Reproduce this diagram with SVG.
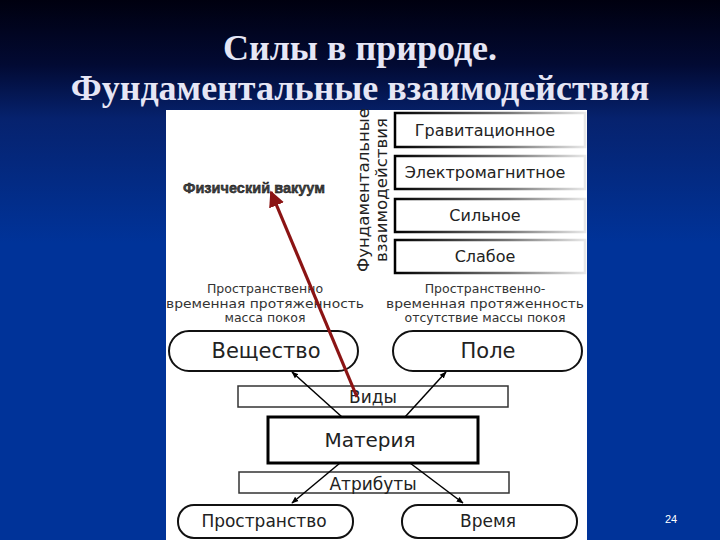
<svg xmlns="http://www.w3.org/2000/svg" width="720" height="540" viewBox="0 0 720 540">
<defs>
<linearGradient id="bg" x1="0" y1="0" x2="0" y2="1">
<stop offset="0" stop-color="#00000f"/>
<stop offset="0.12" stop-color="#020a33"/>
<stop offset="0.22" stop-color="#06226e"/>
<stop offset="0.45" stop-color="#003399"/>
<stop offset="1" stop-color="#003399"/>
</linearGradient>
<linearGradient id="fade" x1="0" y1="0" x2="1" y2="0">
<stop offset="0" stop-color="#000"/>
<stop offset="0.6" stop-color="#777"/>
<stop offset="1" stop-color="#e8e8e8"/>
</linearGradient>
<marker id="ah" viewBox="0 0 10 10" refX="9" refY="5" markerWidth="7" markerHeight="7" orient="auto-start-reverse" markerUnits="userSpaceOnUse">
<path d="M0,1 L10,5 L0,9 z" fill="#000"/>
</marker>
<marker id="ahr" viewBox="0 0 10 10" refX="9" refY="5" markerWidth="5" markerHeight="5" orient="auto">
<path d="M0,0 L10,5 L0,10 z" fill="#8b1414"/>
</marker>
</defs>
<style>
.t{font-family:"DejaVu Sans","Noto Sans",sans-serif;fill:#222;text-anchor:middle}
.title{font-family:"Liberation Serif","Times New Roman",serif;font-weight:bold;fill:#e6e6f5;text-anchor:middle}
.force{fill:#fff;stroke:url(#fade);stroke-width:2.5}
.pill{fill:#fff;stroke:#111;stroke-width:2}
.bar{fill:#fff;stroke:#333;stroke-width:1.5}
.lbl{font-size:12.5px;fill:#333}
</style>
<rect x="0" y="0" width="720" height="540" fill="url(#bg)"/>
<text class="title" x="360" y="60" font-size="36">Силы в природе.</text>
<text class="title" x="360" y="100" font-size="36">Фундаментальные взаимодействия</text>
<rect x="166" y="110" width="421" height="430" fill="#fff"/>

<g id="vertical-label">
<text class="t" font-size="15.5" transform="translate(369,190) rotate(-90)" textLength="164" lengthAdjust="spacingAndGlyphs">Фундаментальные</text>
<text class="t" font-size="15.5" transform="translate(387,190) rotate(-90)" textLength="144" lengthAdjust="spacingAndGlyphs">взаимодействия</text>
</g>
<g id="f1"><rect class="force" x="395" y="113" width="190" height="34"/><text class="t" x="485" y="136" font-size="16" fill="#333">Гравитационное</text></g>
<g id="f2"><rect class="force" x="395" y="156" width="190" height="33"/><text class="t" x="485" y="178" font-size="16" fill="#333">Электромагнитное</text></g>
<g id="f3"><rect class="force" x="395" y="199" width="190" height="33"/><text class="t" x="485" y="221" font-size="16" fill="#333">Сильное</text></g>
<g id="f4"><rect class="force" x="395" y="240" width="190" height="33"/><text class="t" x="485" y="262" font-size="16" fill="#333">Слабое</text></g>

<g id="vacuum"><text x="183" y="193" font-family="'Liberation Sans',Arial,sans-serif" font-size="14" font-weight="bold" fill="#444" stroke="#000" stroke-width="0.4" textLength="142" lengthAdjust="spacingAndGlyphs">Физический вакуум</text></g>

<g id="lbl-left">
<text class="t lbl" x="265" y="293">Пространственно</text>
<text class="t lbl" x="265" y="308" textLength="198" lengthAdjust="spacingAndGlyphs">временная протяженность</text>
<text class="t lbl" x="265" y="322">масса покоя</text>
</g>
<g id="lbl-right">
<text class="t lbl" x="485" y="293">Пространственно-</text>
<text class="t lbl" x="485" y="308" textLength="198" lengthAdjust="spacingAndGlyphs">временная протяженность</text>
<text class="t lbl" x="485" y="322">отсутствие массы покоя</text>
</g>

<g id="substance"><rect class="pill" x="169" y="331" width="189" height="40" rx="20"/><text class="t" x="266" y="358" font-size="21">Вещество</text></g>
<g id="field"><rect class="pill" x="393" y="331" width="189" height="40" rx="20"/><text class="t" x="488" y="358" font-size="21">Поле</text></g>
<g id="kinds"><rect class="bar" x="238" y="386" width="270" height="21"/><text class="t" x="373" y="403" font-size="17">Виды</text></g>
<g id="matter"><rect x="268" y="417" width="210" height="46" fill="#fff" stroke="#000" stroke-width="3"/><text class="t" x="370" y="447" font-size="20">Материя</text></g>
<g id="attrs"><rect class="bar" x="239" y="472" width="270" height="21"/><text class="t" x="373" y="490" font-size="17">Атрибуты</text></g>
<g id="space"><rect class="pill" x="178" y="505" width="175" height="33" rx="16"/><text class="t" x="264" y="527" font-size="17">Пространство</text></g>
<g id="time"><rect class="pill" x="402" y="505" width="175" height="33" rx="16"/><text class="t" x="488" y="527" font-size="17">Время</text></g>

<g id="connectors" stroke="#000" stroke-width="1.5" fill="none">
<line x1="342" y1="417" x2="292" y2="372" marker-end="url(#ah)"/>
<line x1="405" y1="417" x2="446" y2="372" marker-end="url(#ah)"/>
<line x1="340" y1="463" x2="292" y2="503" marker-end="url(#ah)"/>
<line x1="410" y1="463" x2="463" y2="503" marker-end="url(#ah)"/>
<line x1="357" y1="397" x2="271" y2="192" stroke="#8b1414" stroke-width="3.2" marker-end="url(#ahr)"/>
</g>

<text x="671" y="523" font-family="'Liberation Sans',Arial,sans-serif" font-size="11" fill="#fff" text-anchor="middle">24</text>
</svg>
